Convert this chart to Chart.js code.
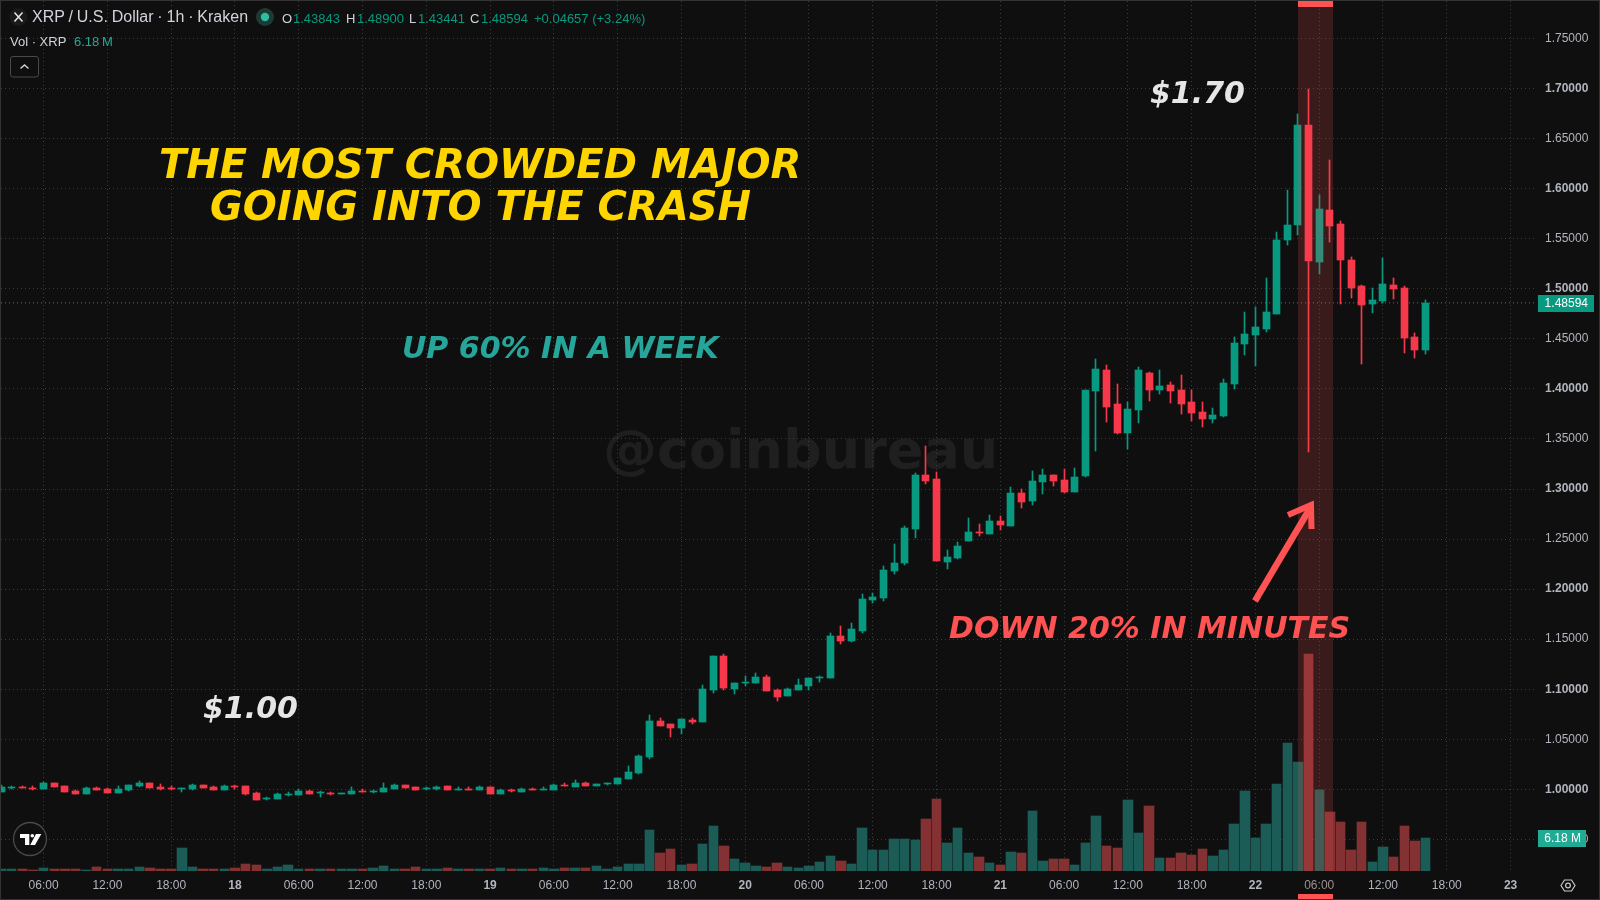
<!DOCTYPE html>
<html><head><meta charset="utf-8">
<style>
html,body{margin:0;padding:0;background:#0f0f0f;width:1600px;height:900px;overflow:hidden;font-family:"Liberation Sans",Arial,sans-serif}
#wrap{position:absolute;left:0;top:0;width:1600px;height:900px}
canvas{position:absolute;left:0;top:0;z-index:2}
.wm{position:absolute;z-index:1;white-space:nowrap;color:#1f1f1f;font:bold 54px "DejaVu Sans";left:603px;top:418px}
.t{position:absolute;z-index:3;white-space:nowrap;font-family:"DejaVu Sans";font-weight:bold;font-style:italic;transform:translateY(-50%)}
.h{position:absolute;z-index:3;white-space:nowrap;transform:translateY(-50%);font-size:13px}
.g{color:#089981}.w{color:#d1d4dc}
#frame{position:absolute;z-index:6;left:0;top:0;width:1598px;height:898px;border:1px solid #333;pointer-events:none}
svg{position:absolute;z-index:4;overflow:visible}
</style></head><body>
<div id="wrap">
<div class="wm">@coinbureau</div>
<canvas id="c" width="1600" height="900"></canvas>

<svg style="left:0;top:0" width="1600" height="900">
  <circle cx="18.5" cy="17" r="9" fill="#1a1a1a"/>
  <path d="M14.5 12.5 L22.5 21.5 M22.5 12.5 L14.5 21.5" stroke="#e6e6e6" stroke-width="1.5" fill="none"/>
  <circle cx="265" cy="17" r="9" fill="#1d3a35"/><circle cx="265" cy="17" r="4.2" fill="#2ebd9f"/>
  <rect x="10.5" y="56.5" width="28" height="20.5" rx="2.5" fill="none" stroke="#4a4a4a"/>
  <path d="M20.5 68.5 L24.5 65 L28.5 68.5" fill="none" stroke="#d1d4dc" stroke-width="1.4"/>
  <circle cx="30" cy="839" r="16.5" fill="#101010" stroke="#4a4a4a" stroke-width="1.3"/>
  <path d="M20 834 H29.3 V845 H25 V838 H20 Z M36 834 H41.3 L35 845 H30.2 Z" fill="#fff"/><circle cx="32.3" cy="835.8" r="1.8" fill="#fff"/>
  <path d="M1561 885.5 L1564.5 880 H1571.5 L1575 885.5 L1571.5 891 H1564.5 Z" fill="none" stroke="#c8c8c8" stroke-width="1.2"/>
  <circle cx="1568" cy="885.5" r="2.4" fill="none" stroke="#c8c8c8" stroke-width="1.2"/>
  <path d="M1255 601 L1309 510" stroke="#ff5252" stroke-width="6.5" fill="none"/>
  <path d="M1288 515 L1311 505 L1311.5 529" stroke="#ff5252" stroke-width="6" fill="none"/>
</svg>

<div class="h" style="left:32px;top:17px;font-size:16px;color:#d1d4dc;word-spacing:-0.6px">XRP / U.S. Dollar · 1h · Kraken</div>
<div class="h w" style="left:282px;top:18px">O</div><div class="h g" style="left:293px;top:18px">1.43843</div>
<div class="h w" style="left:346px;top:18px">H</div><div class="h g" style="left:357px;top:18px">1.48900</div>
<div class="h w" style="left:409px;top:18px">L</div><div class="h g" style="left:418px;top:18px">1.43441</div>
<div class="h w" style="left:470px;top:18px">C</div><div class="h g" style="left:481px;top:18px">1.48594</div>
<div class="h g" style="left:534px;top:18px">+0.04657 (+3.24%)</div>
<div class="h w" style="left:10px;top:41px">Vol · XRP</div>
<div class="h" style="left:74px;top:41px;color:#22ab94;word-spacing:-1px">6.18 M</div>

<div class="t" style="left:159px;top:164px;font-size:40px;color:#ffd500">THE MOST CROWDED MAJOR</div>
<div class="t" style="left:210px;top:206px;font-size:40px;color:#ffd500">GOING INTO THE CRASH</div>
<div class="t" style="left:402px;top:347px;font-size:30px;color:#26a69a">UP 60% IN A WEEK</div>
<div class="t" style="left:1150px;top:92px;font-size:30px;color:#e6e6e6">$1.70</div>
<div class="t" style="left:203px;top:707px;font-size:30px;color:#e6e6e6">$1.00</div>
<div class="t" style="left:949px;top:627px;font-size:30px;color:#ff5252">DOWN 20% IN MINUTES</div>
<div id="frame"></div>
</div>
<script src="https://cdn.jsdelivr.net/npm/chart.js@4"></script>
<script>
// hours since 00:00 of the 17th; first candle is 02:00
const firstHour = 2;
const openP = [0.9977,1.0017,1.0023,1.0010,1.0003,1.0063,1.0030,0.9983,0.9957,1.0013,1.0003,0.9963,0.9997,1.0037,1.0063,1.0023,1.0013,1.0007,1.0003,1.0043,1.0023,0.9997,1.0033,1.0030,0.9960,0.9903,0.9907,0.9947,0.9947,0.9983,0.9970,0.9967,0.9957,0.9953,0.9983,0.9977,0.9973,1.0003,1.0043,1.0023,1.0003,1.0003,1.0033,0.9997,1.0003,0.9993,1.0023,0.9953,0.9993,0.9973,1.0003,0.9993,0.9993,1.0043,1.0023,1.0063,1.0033,1.0053,1.0050,1.0100,1.0160,1.0320,1.0679,1.0649,1.0609,1.0689,1.0669,1.0989,1.1329,1.1006,1.1062,1.1059,1.1119,1.0989,1.0929,1.0989,1.1029,1.1109,1.1109,1.1528,1.1479,1.1584,1.1893,1.1913,1.2183,1.2263,1.2603,1.3142,1.3102,1.2273,1.2313,1.2483,1.2573,1.2553,1.2683,1.2633,1.2962,1.2882,1.3072,1.3142,1.3092,1.2972,1.3132,1.3983,1.4193,1.3853,1.3564,1.3793,1.4163,1.3993,1.4043,1.3993,1.3873,1.3774,1.3704,1.3734,1.4046,1.4446,1.4536,1.4596,1.4746,1.5485,1.5635,1.6634,1.5265,1.5785,1.5645,1.5285,1.5025,1.4845,1.4875,1.5035,1.5005,1.4516,1.43843];
const highP = [1.0043,1.0033,1.0033,1.0033,1.0070,1.0063,1.0030,0.9990,1.0020,1.0023,1.0010,1.0033,1.0040,1.0080,1.0063,1.0053,1.0037,1.0013,1.0053,1.0043,1.0033,1.0043,1.0047,1.0030,0.9970,0.9923,0.9963,0.9973,1.0003,0.9997,0.9980,0.9977,0.9963,1.0023,1.0000,0.9997,1.0063,1.0053,1.0043,1.0023,1.0023,1.0033,1.0033,1.0027,1.0023,1.0033,1.0023,1.0003,1.0000,1.0017,1.0017,1.0023,1.0053,1.0063,1.0093,1.0073,1.0053,1.0063,1.0117,1.0230,1.0340,1.0739,1.0709,1.0649,1.0699,1.0709,1.1039,1.1329,1.1349,1.1059,1.1129,1.1159,1.1139,1.0999,1.1009,1.1099,1.1109,1.1129,1.1558,1.1628,1.1658,1.1953,1.1960,1.2233,1.2453,1.2633,1.3162,1.3432,1.3172,1.2393,1.2473,1.2713,1.2653,1.2743,1.2733,1.3022,1.3002,1.3182,1.3202,1.3142,1.3202,1.3212,1.3993,1.4303,1.4243,1.4053,1.3873,1.4223,1.4173,1.4193,1.4073,1.4143,1.3993,1.3873,1.3813,1.4103,1.4516,1.4766,1.4816,1.5105,1.5565,1.5985,1.6744,1.7000,1.5935,1.6284,1.5675,1.5315,1.5035,1.5005,1.5308,1.5105,1.5025,1.4556,1.48900];
const lowP = [0.9977,1.0003,1.0013,0.9997,1.0000,1.0023,0.9973,0.9953,0.9953,0.9993,0.9960,0.9963,0.9987,1.0023,1.0013,0.9997,0.9997,0.9977,0.9993,1.0017,0.9993,0.9993,1.0007,0.9947,0.9893,0.9897,0.9903,0.9937,0.9943,0.9953,0.9927,0.9947,0.9957,0.9953,0.9973,0.9967,0.9973,1.0000,1.0013,0.9993,0.9997,0.9997,0.9993,0.9993,0.9993,0.9993,0.9953,0.9953,0.9973,0.9973,0.9993,0.9993,0.9993,1.0033,1.0023,1.0033,1.0033,1.0043,1.0050,1.0100,1.0150,1.0300,1.0629,1.0519,1.0553,1.0649,1.0669,1.0959,1.0989,1.0949,1.1032,1.1059,1.0979,1.0879,1.0929,1.0989,1.0996,1.1069,1.1109,1.1449,1.1469,1.1560,1.1860,1.1883,1.2153,1.2243,1.2513,1.3052,1.2283,1.2203,1.2303,1.2483,1.2533,1.2553,1.2589,1.2633,1.2813,1.2842,1.2952,1.3032,1.2962,1.2972,1.3122,1.3384,1.3674,1.3554,1.3404,1.3664,1.3883,1.3953,1.3863,1.3754,1.3684,1.3624,1.3664,1.3724,1.3996,1.4336,1.4229,1.4566,1.4746,1.5435,1.5535,1.3367,1.5145,1.5465,1.4845,1.4905,1.4246,1.4755,1.4855,1.4895,1.4356,1.4306,1.43441];
const closeP = [1.0023,1.0023,1.0017,1.0003,1.0063,1.0023,0.9977,0.9957,1.0010,0.9997,0.9967,1.0003,1.0040,1.0063,1.0017,1.0003,1.0003,1.0013,1.0043,1.0017,0.9997,1.0033,1.0023,0.9957,0.9897,0.9913,0.9953,0.9957,0.9983,0.9957,0.9977,0.9960,0.9963,0.9983,0.9977,0.9983,1.0013,1.0043,1.0013,0.9997,1.0013,1.0023,0.9993,1.0003,0.9997,1.0023,0.9953,0.9993,0.9983,1.0003,0.9997,1.0003,1.0043,1.0033,1.0063,1.0033,1.0053,1.0063,1.0110,1.0170,1.0330,1.0679,1.0629,1.0609,1.0699,1.0669,1.0999,1.1329,1.1009,1.1059,1.1069,1.1119,1.0979,1.0919,1.0999,1.1039,1.1109,1.1119,1.1528,1.1479,1.1598,1.1903,1.1923,1.2193,1.2263,1.2613,1.3142,1.3082,1.2283,1.2323,1.2433,1.2573,1.2563,1.2683,1.2643,1.2962,1.2872,1.3082,1.3142,1.3082,1.2972,1.3122,1.3993,1.4203,1.3823,1.3564,1.3803,1.4193,1.3993,1.4033,1.3983,1.3853,1.3764,1.3704,1.3744,1.4063,1.4456,1.4546,1.4616,1.4766,1.5485,1.5635,1.6634,1.5275,1.5795,1.5625,1.5285,1.5005,1.4835,1.4885,1.5045,1.4995,1.4506,1.4386,1.48594];
const volumeM = [0.38,0.38,0.38,0.19,0.57,0.38,0.38,0.38,0.19,0.76,0.38,0.38,0.38,0.76,0.57,0.38,0.38,4.35,0.76,0.38,0.38,0.38,0.57,1.32,1.13,0.38,0.76,1.13,0.38,0.38,0.38,0.38,0.38,0.38,0.38,0.57,0.95,0.38,0.38,0.76,0.38,0.38,0.57,0.38,0.38,0.38,0.38,0.57,0.38,0.38,0.38,0.57,0.38,0.57,0.57,0.57,0.95,0.38,0.76,1.32,1.32,7.75,3.40,4.16,1.13,1.32,5.10,8.51,4.73,2.27,1.51,0.95,0.76,1.51,0.76,0.57,0.95,1.70,2.84,1.89,1.32,8.13,3.97,3.97,6.05,6.05,5.86,9.83,13.61,5.29,8.13,3.40,2.65,1.51,1.13,3.59,3.40,11.34,1.89,2.27,2.27,1.13,5.29,10.40,4.73,4.35,13.42,7.18,12.29,2.46,2.46,3.40,3.02,4.16,2.84,3.97,8.88,15.12,6.24,8.88,16.44,24.19,20.60,41.01,15.31,11.15,9.26,3.97,9.26,1.70,4.54,2.65,8.51,5.67,6.18];
const priceTicks = [1.75,1.70,1.65,1.60,1.55,1.50,1.45,1.40,1.35,1.30,1.25,1.20,1.15,1.10,1.05,1.00,0.95];
const timeTicks = [6,12,18,24,30,36,42,48,54,60,66,72,78,84,90,96,102,108,114,120,126,132,138,144];
const timeLabels = ["06:00","12:00","18:00","18","06:00","12:00","18:00","19","06:00","12:00","18:00","20","06:00","12:00","18:00","21","06:00","12:00","18:00","22","06:00","12:00","18:00","23"];
const lastPrice = 1.48594, lastVolLabel = "6.18 M", lastVol = 6.18;
const bandFrom = 124.02, bandTo = 127.3;

const UP='#089981', DOWN='#f7374a', VUP='#1c5c56', VDOWN='#833133';
const xs = openP.map((_,i)=>firstHour+i);
const up = closeP.map((c,i)=>c>=openP[i]);
const xMin=1.99, xMax=146.3;

const snap = {
  id:'snap',
  beforeDatasetsDraw(chart){
    const xScale=chart.scales.x;
    chart.data.datasets.forEach((ds,di)=>{
      if(ds.type==='line')return;
      const meta=chart.getDatasetMeta(di);
      meta.data.forEach((el,i)=>{
        const cx=xScale.getPixelForValue(xs[i]);
        if(ds.snapKind==='vol'){
          const l=Math.round(cx-4.7),r=Math.round(cx+4.7);
          el.x=(l+r)/2; el.width=r-l;
        } else {
          el.x=Math.floor(cx)+0.5;
        }
        let a=Math.round(el.y),b=Math.round(el.base);
        if(a===b)b=a+1;
        el.y=a; el.base=b; el.height=b-a;
      });
    });
  }
};
const band = {
  id:'band',
  afterDatasetsDraw(chart){
    const {ctx,chartArea:a,scales:{x,y}}=chart;
    const l=Math.round(x.getPixelForValue(bandFrom)),r=Math.round(x.getPixelForValue(bandTo));
    ctx.save();
    ctx.fillStyle='rgba(255,82,82,0.18)';
    ctx.fillRect(l,a.top-1,r-l,a.bottom-a.top+1);
    ctx.fillStyle='#ff5252';
    ctx.fillRect(l,0,r-l,7);
    ctx.fillRect(l,894,r-l,6);
    // price tag
    const py=y.getPixelForValue(lastPrice);
    ctx.fillStyle=UP; ctx.fillRect(1538,Math.round(py)-8,56,17);
    ctx.fillStyle='#fff'; ctx.font='12px "Liberation Sans"'; ctx.textAlign='right'; ctx.textBaseline='middle';
    ctx.fillText(lastPrice.toFixed(5),1588,Math.round(py)+1);
    // volume tag
    const vy=chart.scales.vol.getPixelForValue(lastVol);
    ctx.fillStyle='#22ab94'; ctx.fillRect(1538,Math.round(vy)-8,48,17);
    ctx.fillStyle='#fff'; ctx.fillText(lastVolLabel,1581,Math.round(vy)+1);
    ctx.restore();
  }
};
const noPad = s => { s.paddingTop=0; s.paddingBottom=0; s.paddingLeft=0; s.paddingRight=0; };

const candleBody=openP.map((o,i)=>({x:xs[i],y:[o,closeP[i]]}));
const candleWick=lowP.map((l,i)=>({x:xs[i],y:[l,highP[i]]}));
const volBars=volumeM.map((v,i)=>({x:xs[i],y:[0,v]}));
const colors=up.map(u=>u?UP:DOWN);

new Chart(document.getElementById('c').getContext('2d'),{
  type:'bar',
  data:{datasets:[
    {label:'Volume',snapKind:'vol',yAxisID:'vol',data:volBars,backgroundColor:up.map(u=>u?VUP:VDOWN),barThickness:9.4,grouped:false,order:5},
    {label:'Last',type:'line',yAxisID:'y',data:[{x:xMin,y:lastPrice},{x:xMax,y:lastPrice}],borderColor:UP,borderWidth:1,borderDash:[1,3],pointRadius:0,order:4},
    {label:'Wick',yAxisID:'y',data:candleWick,backgroundColor:colors,barThickness:1,grouped:false,order:3},
    {label:'Body',yAxisID:'y',data:candleBody,backgroundColor:colors,barThickness:7,grouped:false,order:2}
  ]},
  plugins:[snap,band],
  options:{
    responsive:false,animation:false,devicePixelRatio:1,
    layout:{padding:{left:1,top:1,right:0,bottom:0}},
    plugins:{legend:{display:false},tooltip:{enabled:false},title:{display:false}},
    scales:{
      x:{type:'linear',min:xMin,max:xMax,offset:false,
        afterBuildTicks(s){s.ticks=timeTicks.map(v=>({value:v}));},
        afterFit(s){s.height=29;noPad(s);},
        grid:{color:'#3a3d3d',drawTicks:false,lineWidth:1,offset:false},
        border:{display:false,dash:[1,3]},
        ticks:{autoSkip:false,maxRotation:0,padding:7,
          callback(v){return timeLabels[timeTicks.indexOf(v)];},
          color(c){return c.tick&&c.tick.value===126?'#a08f8f':'#b2b5be';},
          font(c){const v=c.tick&&c.tick.value;return {family:'"Liberation Sans"',size:12,weight:(v%24===0)?'bold':'normal'};}
        }},
      y:{type:'linear',position:'right',min:0.9184,max:1.7875,
        afterBuildTicks(s){s.ticks=priceTicks.map(v=>({value:v}));},
        afterFit(s){s.width=65;noPad(s);},
        grid:{color:'#3a3d3d',drawTicks:false,lineWidth:1},
        border:{display:false,dash:[1,3]},
        ticks:{autoSkip:false,padding:10,crossAlign:'near',
          callback(v){return v.toFixed(5);},
          color:'#b2b5be',
          font(c){const v=c.tick&&c.tick.value;return {family:'"Liberation Sans"',size:12,weight:(Math.round(v*100)%10===0)?'bold':'normal'};}
        }},
      vol:{type:'linear',display:false,position:'left',min:0,max:164.4,grid:{display:false}}
    }
  }
});
</script>
</body></html>
